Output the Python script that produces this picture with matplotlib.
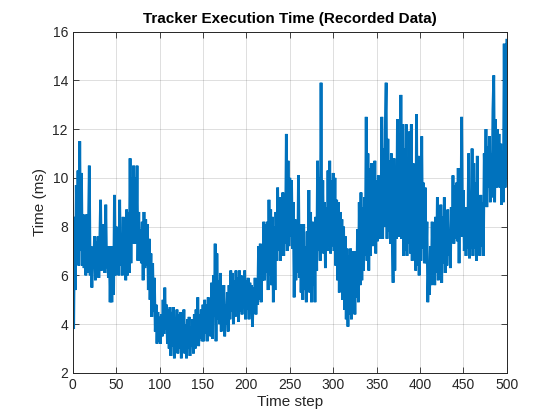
import numpy as np
import matplotlib
matplotlib.use('Agg')
import matplotlib.pyplot as plt

# values, steps 1..500, in blocks of 50
block_1 = [3.8, 8.4, 5.4, 9.7, 6.8, 10.3, 6.4, 11.5, 7.0, 10.2,
           6.4, 8.5, 6.3, 8.0, 6.0, 8.5, 6.1, 7.8, 10.5, 6.0,
           7.2, 5.5, 7.0, 6.3, 7.6, 5.8, 7.4, 6.2, 7.6, 5.9,
           7.2, 9.1, 6.2, 8.1, 6.5, 7.6, 6.1, 8.9, 6.3, 7.2,
           5.9, 7.2, 4.9, 7.0, 4.9, 7.2, 5.2, 9.3, 6.0, 8.0]
block_2 = [6.2, 7.6, 6.0, 9.1, 6.4, 7.6, 6.0, 8.4, 6.2, 7.7,
           5.8, 8.7, 6.0, 8.6, 6.1, 10.8, 6.5, 10.0, 7.3, 10.5,
           7.3, 10.0, 7.3, 10.5, 6.6, 8.6, 6.6, 7.9, 6.5, 8.2,
           5.8, 8.6, 6.3, 8.3, 6.4, 8.1, 5.4, 7.5, 5.0, 6.9,
           4.3, 6.5, 4.5, 5.9, 3.7, 4.8, 3.2, 4.5, 3.3, 4.3]
block_3 = [3.2, 4.4, 3.5, 5.0, 3.6, 5.5, 3.8, 4.8, 3.2, 4.6,
           3.0, 4.7, 2.7, 4.5, 3.1, 4.7, 2.6, 4.2, 3.4, 4.6,
           2.8, 4.4, 3.0, 4.5, 2.6, 4.1, 3.2, 4.6, 2.8, 4.0,
           2.6, 4.2, 3.0, 4.3, 2.7, 3.9, 3.1, 4.2, 2.8, 4.4,
           3.0, 4.6, 3.2, 5.1, 3.1, 4.4, 3.4, 4.6, 3.3, 4.8]
block_4 = [3.3, 5.0, 3.6, 4.8, 3.3, 5.1, 3.8, 4.6, 3.5, 5.7,
           3.4, 6.0, 4.3, 7.3, 3.3, 6.9, 4.2, 5.8, 4.0, 6.1,
           3.7, 5.5, 4.1, 5.6, 3.5, 4.8, 4.0, 5.3, 3.7, 5.6,
           4.2, 6.2, 4.5, 6.1, 4.0, 5.8, 4.3, 6.2, 4.6, 5.9,
           4.1, 6.2, 4.5, 6.0, 4.4, 5.6, 4.7, 6.2, 4.2, 5.8]
block_5 = [4.6, 5.9, 4.2, 5.7, 4.8, 5.6, 3.9, 5.5, 4.6, 5.9,
           4.4, 5.8, 4.8, 7.2, 5.0, 7.3, 4.9, 6.4, 5.8, 8.2,
           5.8, 8.1, 6.1, 8.2, 5.4, 9.1, 6.0, 8.7, 5.6, 8.4,
           4.9, 8.0, 5.4, 8.6, 6.6, 9.6, 7.0, 9.2, 6.6, 8.7,
           7.2, 9.4, 6.8, 8.6, 7.3, 11.8, 7.0, 10.7, 7.2, 10.0]
block_6 = [7.6, 9.9, 7.1, 9.0, 5.1, 8.3, 5.8, 8.2, 6.1, 10.1,
           5.9, 8.1, 5.3, 7.6, 5.0, 8.1, 5.4, 7.2, 4.9, 7.8,
           5.6, 9.5, 5.3, 8.6, 4.9, 8.2, 5.6, 7.9, 4.9, 8.4,
           6.2, 10.7, 7.0, 10.0, 6.6, 13.9, 7.1, 9.9, 6.9, 9.0,
           6.3, 8.8, 7.0, 10.3, 7.2, 10.7, 6.9, 9.9, 7.2, 10.2]
block_7 = [7.0, 10.0, 6.4, 9.1, 5.8, 9.0, 5.3, 8.6, 6.0, 8.3,
           5.0, 8.0, 4.6, 7.6, 4.2, 7.1, 3.9, 6.8, 4.4, 7.1,
           4.2, 7.0, 4.5, 6.6, 4.4, 7.0, 5.1, 7.9, 4.9, 9.0,
           5.6, 9.4, 5.8, 8.8, 6.2, 9.2, 6.8, 12.5, 6.6, 11.0,
           6.2, 10.4, 6.8, 10.6, 7.2, 10.0, 7.8, 10.7, 6.9, 9.9]
block_8 = [7.4, 10.1, 7.5, 9.8, 7.9, 12.5, 7.5, 11.2, 8.0, 12.0,
           13.9, 7.5, 11.6, 7.8, 10.7, 7.3, 11.0, 7.5, 5.7, 10.8,
           6.2, 9.6, 7.5, 12.4, 7.6, 11.8, 7.6, 13.4, 7.5, 12.2,
           6.8, 11.2, 7.0, 12.2, 6.8, 10.4, 7.3, 11.9, 6.9, 12.2,
           6.6, 10.6, 6.9, 9.9, 6.2, 12.6, 6.4, 10.9, 6.0, 10.2]
block_9 = [6.6, 11.7, 7.1, 9.8, 6.5, 9.6, 6.5, 8.2, 4.9, 6.5,
           5.2, 7.2, 5.6, 8.2, 5.9, 7.6, 5.6, 8.4, 6.1, 9.2,
           5.8, 8.6, 6.2, 8.9, 5.7, 8.4, 6.5, 9.2, 6.1, 8.0,
           6.4, 8.7, 6.8, 7.9, 6.3, 8.8, 7.4, 10.1, 7.3, 9.7,
           7.5, 9.8, 7.4, 10.4, 6.5, 10.0, 7.6, 12.5, 7.6, 9.5]
block_10 = [7.0, 8.8, 6.8, 8.5, 7.1, 11.0, 6.7, 8.6, 7.1, 11.2,
            6.8, 10.6, 7.1, 9.8, 6.6, 10.9, 7.0, 9.2, 6.8, 9.3,
            7.2, 9.0, 6.8, 11.0, 9.5, 12.0, 8.8, 11.3, 9.6, 11.7,
            9.0, 11.0, 9.2, 12.8, 14.2, 9.0, 12.4, 9.6, 12.0, 10.0,
            11.8, 9.6, 11.4, 8.9, 10.5, 9.0, 15.5, 9.6, 12.0, 15.7]

exec_time = np.array(block_1 + block_2 + block_3 + block_4 + block_5 +
                     block_6 + block_7 + block_8 + block_9 + block_10)
steps = np.arange(1, len(exec_time) + 1)

plt.rcParams['font.family'] = ['Liberation Sans', 'DejaVu Sans']
ax_col = (0.15, 0.15, 0.15)

fig = plt.figure(figsize=(5.6, 4.2), dpi=100)
ax = fig.add_axes([0.130, 0.112, 0.775, 0.813])
ax.plot(steps, exec_time, color='#0072BD', linewidth=2.0,
        solid_joinstyle='bevel', solid_capstyle='butt')

ax.set_xlim(0, 500)
ax.set_ylim(2, 16)
ax.set_xticks(np.arange(0, 501, 50))
ax.set_yticks(np.arange(2, 17, 2))
ax.grid(True, color=ax_col, alpha=0.15, linewidth=0.7)
ax.tick_params(direction='in', top=True, right=True, colors=ax_col,
               labelsize=10, length=4, width=0.6)
for s in ax.spines.values():
    s.set_color(ax_col)
    s.set_linewidth(0.7)

ax.set_xlabel('Time step', fontsize=11, color=ax_col, labelpad=2)
ax.set_ylabel('Time (ms)', fontsize=11, color=ax_col, labelpad=4)
ax.set_title('Tracker Execution Time (Recorded Data)', fontsize=11,
             fontweight='bold', color='black', pad=6)

fig.savefig('out.png', dpi=100)
